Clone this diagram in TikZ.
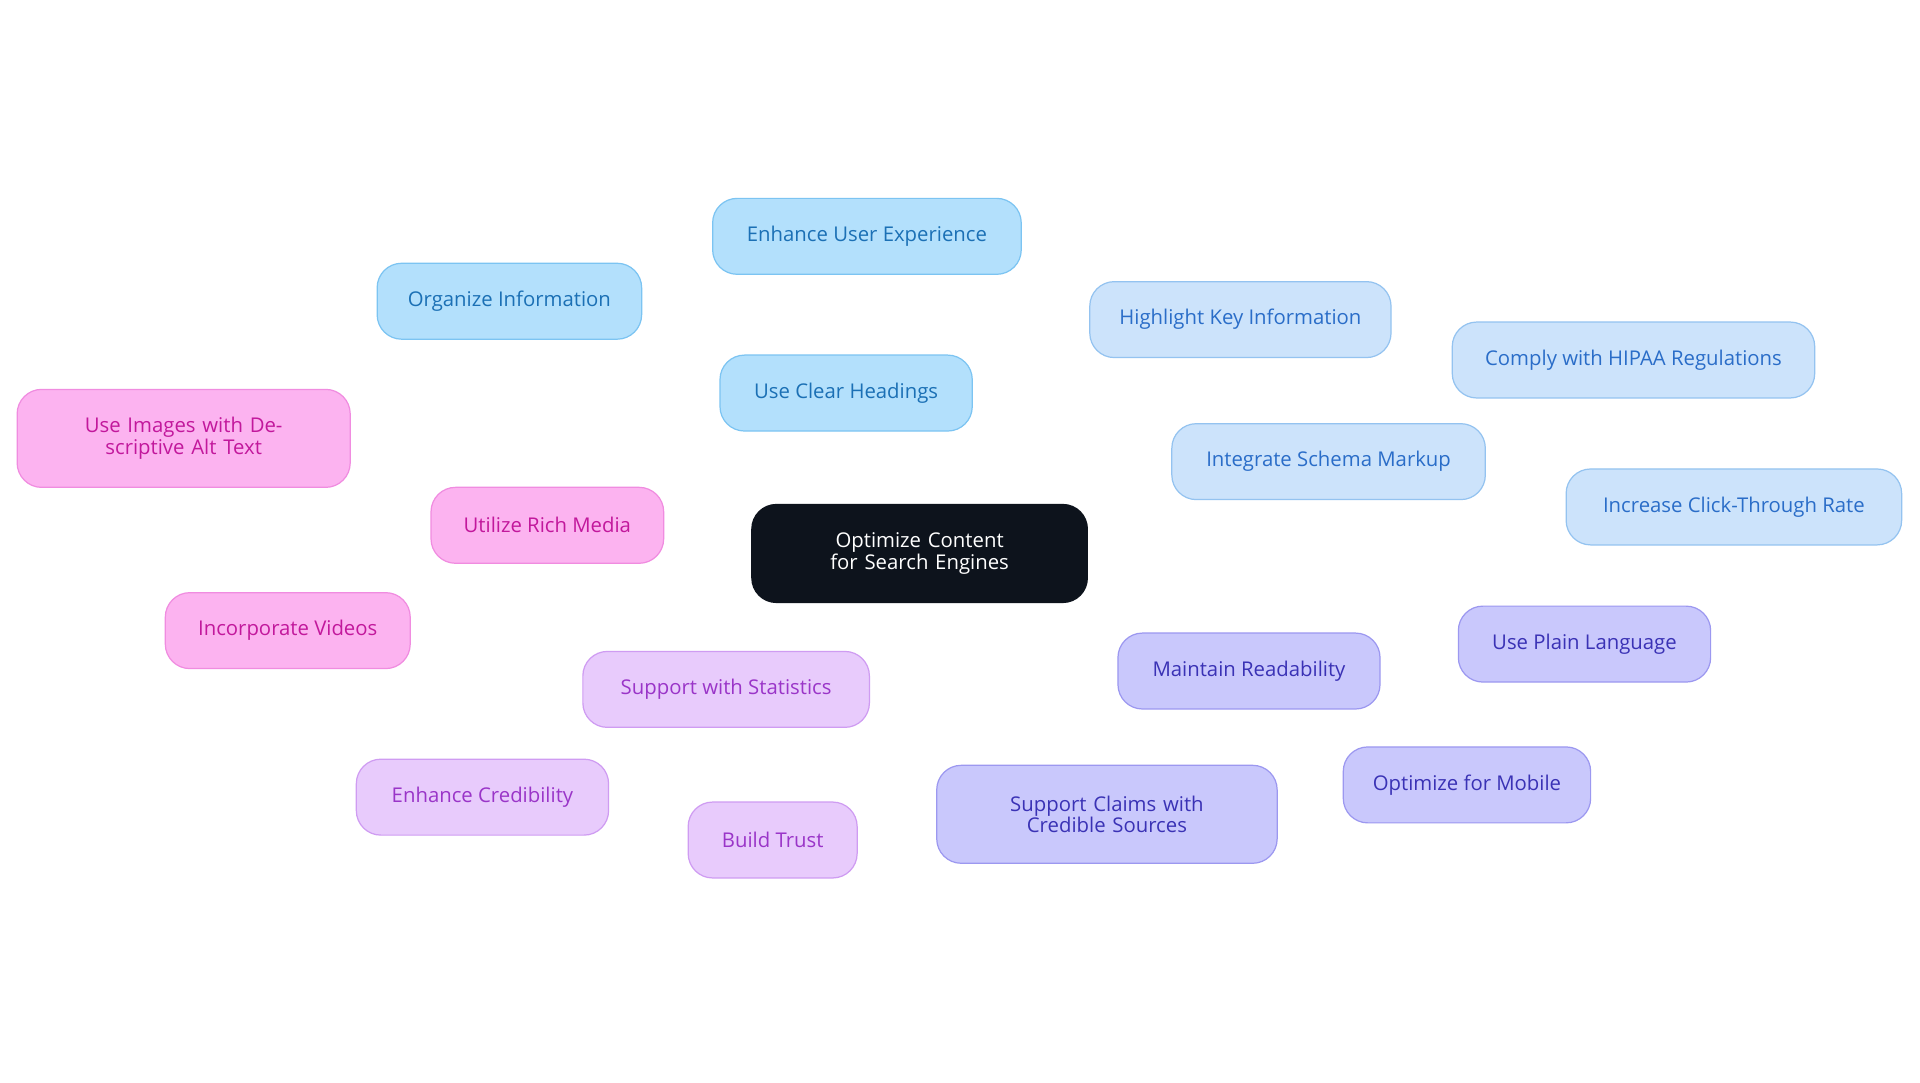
\documentclass[tikz,border=0pt]{standalone}
\usepackage{fontspec}
\setmainfont{Open Sans}
\usetikzlibrary{backgrounds}
\definecolor{cA}{HTML}{B3E0FC}\definecolor{bA}{HTML}{7CC4F2}\definecolor{tA}{HTML}{1B70B5}
\definecolor{cB}{HTML}{CCE3FB}\definecolor{bB}{HTML}{94C3F0}\definecolor{tB}{HTML}{2A6DC8}
\definecolor{cC}{HTML}{C9C8FC}\definecolor{bC}{HTML}{9C98F0}\definecolor{tC}{HTML}{3A32B5}
\definecolor{cD}{HTML}{E8CBFC}\definecolor{bD}{HTML}{CF9CF2}\definecolor{tD}{HTML}{9A35C8}
\definecolor{cE}{HTML}{FCB3F0}\definecolor{bE}{HTML}{F08CE0}\definecolor{tE}{HTML}{C2189C}
\definecolor{cM}{HTML}{0D131C}
\tikzset{
 box/.style={rounded corners=10pt,minimum height=31pt,inner sep=2pt,align=center,font=\fontsize{8.3}{8.8}\selectfont,line width=0.5pt},
 gA/.style={box,fill=cA,draw=bA,text=tA},
 gB/.style={box,fill=cB,draw=bB,text=tB},
 gC/.style={box,fill=cC,draw=bC,text=tC},
 gD/.style={box,fill=cD,draw=bD,text=tD},
 gE/.style={box,fill=cE,draw=bE,text=tE},
 eA/.style={draw=bA,line width=1pt},
 eB/.style={draw=bB,line width=1pt},
 eC/.style={draw=bC,line width=1pt},
 eD/.style={draw=bD,line width=1pt},
 eE/.style={draw=bE,line width=1pt},
}
\begin{document}
\begin{tikzpicture}[x=0.5pt,y=-0.5pt]
\useasboundingbox[fill=white] (0,0) rectangle (1568,884);
\node[box,fill=cM,draw=cM,text=white,minimum width=137pt,minimum height=40pt,text width=125pt] (m) at (751,452) {Optimize Content for Search Engines};
\node[gA,minimum width=103pt] (a) at (691,321) {Use Clear Headings};
\node[gA,minimum width=126pt] (a1) at (708,193) {Enhance User Experience};
\node[gA,minimum width=108pt] (a2) at (416,246) {Organize Information};
\node[gB,minimum width=128pt] (b) at (1085,377) {Integrate Schema Markup};
\node[gB,minimum width=123pt] (b1) at (1013,261) {Highlight Key Information};
\node[gB,minimum width=148pt] (b2) at (1334,294) {Comply with HIPAA Regulations};
\node[gB,minimum width=137pt] (b3) at (1416,414) {Increase Click-Through Rate};
\node[gC,minimum width=107pt] (c) at (1020,548) {Maintain Readability};
\node[gC,minimum width=103pt] (c1) at (1294,526) {Use Plain Language};
\node[gC,minimum width=101pt] (c2) at (1198,641) {Optimize for Mobile};
\node[gC,minimum width=139pt,minimum height=40pt,text width=125pt] (c3) at (904,665) {Support Claims with Credible Sources};
\node[gD,minimum width=117pt] (d) at (593,563) {Support with Statistics};
\node[gD,minimum width=103pt] (d1) at (394,651) {Enhance Credibility};
\node[gD,minimum width=69pt] (d2) at (631,686) {Build Trust};
\node[gE,minimum width=95pt] (e) at (447,429) {Utilize Rich Media};
\node[gE,minimum width=136pt,minimum height=40pt,text width=120pt] (e1) at (150,358) {Use Images with Descriptive Alt Text};
\node[gE,minimum width=100pt] (e2) at (235,515) {Incorporate Videos};
\begin{pgfonlayer}{background}
\draw[eA] (m)--(a) (a)--(a1) (a)--(a2);
\draw[eB] (m)--(b) (b)--(b1) (b)--(b2) (b)--(b3);
\draw[eC] (m)--(c) (c)--(c1) (c)--(c2) (c)--(c3);
\draw[eD] (m)--(d) (d)--(d1) (d)--(d2);
\draw[eE] (m)--(e) (e)--(e1) (e)--(e2);
\end{pgfonlayer}
\end{tikzpicture}
\end{document}
